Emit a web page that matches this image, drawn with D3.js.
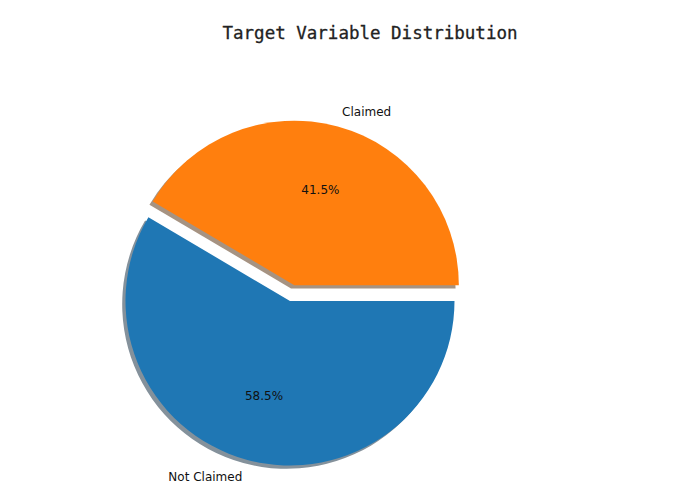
<!DOCTYPE html>
<html>
<head>
<meta charset="utf-8">
<script src="https://cdn.jsdelivr.net/npm/d3@7"></script>
<style>
  body { margin: 0; background: #fff; }
</style>
</head>
<body>
<svg id="chart" width="694" height="489"></svg>
<script>
// data
var labels = ["Claimed", "Not Claimed"];
var values = [41.5, 58.5];
var colors = ["#ff7f0e", "#1f77b4"];
var explode = [0.1, 0];

var WIDTH = 694, HEIGHT = 489,
    cx = 290, cy = 301, R = 164.5;

var svg = d3.select("#chart");

svg.append("text")
    .attr("x", 370)
    .attr("y", 33)
    .attr("text-anchor", "middle")
    .attr("dominant-baseline", "central")
    .style("font-family", "'DejaVu Sans Mono', monospace")
    .style("font-size", "17.5px")
    .style("fill", "#222")
    .style("stroke", "#222")
    .style("stroke-width", "0.3px")
    .text("Target Variable Distribution");

// matplotlib: counterclockwise from east -> d3 angles go clockwise from north
var pie = d3.pie().sort(null)
    .startAngle(Math.PI / 2)
    .endAngle(Math.PI / 2 - 2 * Math.PI);

var arcs = pie(values);
var arc = d3.arc().innerRadius(0).outerRadius(R);

function midAngle(d) { return (d.startAngle + d.endAngle) / 2; }
function offset(d, i) {
    var a = midAngle(d), e = explode[i] * R;
    return [Math.sin(a) * e, -Math.cos(a) * e];
}
function shadowColor(c) {
    var k = d3.rgb(c);
    // 0.3 * face colour at alpha 0.5 over white
    return d3.rgb(k.r * 0.3 * 0.5 + 127.5, k.g * 0.3 * 0.5 + 127.5, k.b * 0.3 * 0.5 + 127.5).toString();
}

var g = svg.append("g").attr("transform", "translate(" + cx + "," + cy + ")");

// shadows first
g.selectAll("path.shadow")
    .data(arcs)
    .enter().append("path")
    .attr("class", "shadow")
    .attr("d", arc)
    .attr("fill", function(d, i) { return shadowColor(colors[i]); })
    .attr("transform", function(d, i) {
        var o = offset(d, i);
        return "translate(" + (o[0] - 3.3) + "," + (o[1] + 3.3) + ")";
    });

g.selectAll("path.wedge")
    .data(arcs)
    .enter().append("path")
    .attr("class", "wedge")
    .attr("d", arc)
    .attr("fill", function(d, i) { return colors[i]; })
    .attr("transform", function(d, i) {
        var o = offset(d, i);
        return "translate(" + o[0] + "," + o[1] + ")";
    });

// outer labels at 1.1 r
g.selectAll("text.label")
    .data(arcs)
    .enter().append("text")
    .attr("class", "label")
    .attr("x", function(d, i) { return offset(d, i)[0] + Math.sin(midAngle(d)) * R * 1.1; })
    .attr("y", function(d, i) { return offset(d, i)[1] - Math.cos(midAngle(d)) * R * 1.1 + 1; })
    .attr("text-anchor", function(d) { return Math.sin(midAngle(d)) > 0 ? "start" : "end"; })
    .attr("dominant-baseline", "central")
    .style("font-family", "'DejaVu Sans', sans-serif")
    .style("font-size", "12px")
    .style("fill", "#111")
    .text(function(d, i) { return labels[i]; });

// percentages at 0.6 r
g.selectAll("text.pct")
    .data(arcs)
    .enter().append("text")
    .attr("class", "pct")
    .attr("x", function(d, i) { return offset(d, i)[0] + Math.sin(midAngle(d)) * R * 0.6; })
    .attr("y", function(d, i) { return offset(d, i)[1] - Math.cos(midAngle(d)) * R * 0.6; })
    .attr("text-anchor", "middle")
    .attr("dominant-baseline", "central")
    .style("font-family", "'DejaVu Sans', sans-serif")
    .style("font-size", "12px")
    .style("fill", "#111")
    .text(function(d, i) { return values[i].toFixed(1) + "%"; });
</script>
</body>
</html>
